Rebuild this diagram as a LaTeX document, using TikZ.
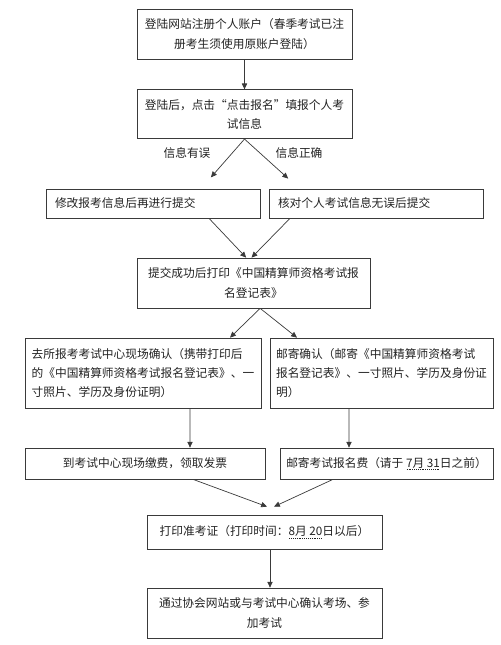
\documentclass[tikz,border=0pt]{standalone}
\usepackage{fontspec}
\setmainfont{Noto Sans CJK SC}
\usetikzlibrary{arrows.meta,positioning}
\definecolor{borde}{HTML}{3A3A3A}
\definecolor{texto}{HTML}{222222}
\newcommand\punteado[1]{\setbox0=\hbox{#1}\rlap{\raisebox{-2.5pt}{\hbox to \wd0{\leaders\hbox to 1.6pt{\hss\rule{0.6pt}{0.5pt}\hss}\hfill}}}\box0}

\begin{document}
\begin{tikzpicture}[
  font=\fontsize{10}{16.5}\selectfont,
  caja/.style={draw=borde, line width=0.6pt, align=center, text=texto, inner sep=3pt},
  izq/.style={caja, align=left, inner xsep=0.27cm},
  etiqueta/.style={text=texto, inner sep=1pt},
  flecha/.style={-{Triangle[length=5pt,width=4.5pt]}, borde, line width=0.6pt}]
\useasboundingbox (0,0) rectangle (15,-19.35);
\node[caja, minimum width=6.45cm, minimum height=1.5cm] (reg) at (7.335,-1.02) {登陆网站注册个人账户（春季考试已注\\册考生须使用原账户登陆）};
\node[caja, minimum width=6.45cm, minimum height=1.47cm, below=0.9cm of reg] (info) {登陆后，点击“点击报名”填报个人考\\试信息};
\node[izq, text width=5.88cm, minimum height=0.87cm] (err) at (4.59,-6.105) {修改报考信息后再进行提交};
\node[izq, text width=5.88cm, minimum height=0.87cm] (ok) at (11.28,-6.105) {核对个人考试信息无误后提交};
\node[etiqueta] (mal) at (5.61,-4.59) {信息有误};
\node[etiqueta] (bien) at (8.97,-4.59) {信息正确};
\node[caja, minimum width=6.99cm, minimum height=1.5cm] (imp) at (7.605,-8.49) {提交成功后打印《中国精算师资格考试报\\名登记表》};
\node[caja, align=left, minimum width=7.08cm, minimum height=2.1cm] (sitio) at (4.29,-11.19) {去所报考考试中心现场确认（携带打印后\\的《中国精算师资格考试报名登记表》、一\\寸照片、学历及身份证明）};
\node[caja, align=left, minimum width=6.69cm, minimum height=2.1cm] (correo) at (11.445,-11.19) {邮寄确认（邮寄《中国精算师资格考试\\报名登记表》、一寸照片、学历及身份证\\明）};
\node[caja, minimum width=7.2cm, minimum height=0.93cm] (pagoS) at (4.35,-13.905) {到考试中心现场缴费，领取发票};
\node[caja, minimum width=6.39cm, minimum height=0.93cm] (pagoC) at (11.595,-13.905) {邮寄考试报名费（请于 \punteado{7月 31}日之前）};
\node[caja, minimum width=7.05cm, minimum height=1.02cm] (admis) at (7.935,-15.96) {打印准考证（打印时间：\punteado{8月 20}日以后）};
\node[caja, minimum width=7.05cm, minimum height=1.5cm] (examen) at (7.935,-18.39) {通过协会网站或与考试中心确认考场、参\\加考试};
% conectores
\draw[flecha] (reg) -- (info);
\draw[flecha, shorten >=0.45cm] (info.south) -- ([xshift=1.44cm]err.north);
\draw[flecha, shorten >=0.45cm] (info.south) -- ([xshift=-2.30cm]ok.north);
\draw[flecha] ([xshift=1.68cm]err.south) -- ([xshift=-0.22cm]imp.north);
\draw[flecha] ([xshift=-2.58cm]ok.south) -- ([xshift=-0.06cm]imp.north);
\draw[flecha] ([xshift=0.2cm]imp.south) -- ([xshift=2.61cm]sitio.north);
\draw[flecha] ([xshift=0.2cm]imp.south) -- ([xshift=-2.535cm]correo.north);
\draw[flecha] ([xshift=1.41cm]sitio.south) -- ([xshift=1.35cm]pagoS.north);
\draw[flecha] ([xshift=-0.975cm]correo.south) -- ([xshift=-1.125cm]pagoC.north);
\draw[flecha] ([xshift=1.44cm]pagoS.south) -- ([xshift=0.075cm, yshift=0.24cm]admis.north);
\draw[flecha] ([xshift=-1.605cm]pagoC.south) -- ([xshift=0.285cm, yshift=0.24cm]admis.north);
\draw[flecha] ([xshift=0.165cm]admis.south) -- ([xshift=0.165cm]examen.north);
\end{tikzpicture}
\end{document}
